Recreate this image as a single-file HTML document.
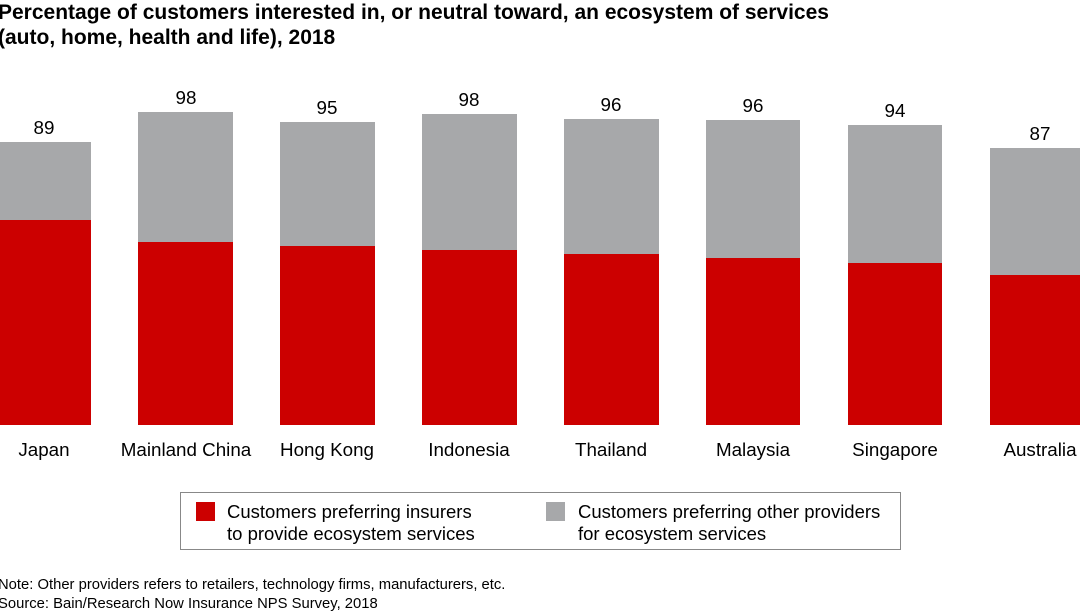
<!DOCTYPE html>
<html><head><meta charset="utf-8"><style>
html,body{margin:0;padding:0;background:#fff;width:1080px;height:612px;overflow:hidden;font-family:"Liberation Sans",Arial,sans-serif;}
</style></head><body>
<svg width="1080" height="612" xmlns="http://www.w3.org/2000/svg" font-family="Liberation Sans, Arial, sans-serif">
<text x="-2" y="19" font-size="21" font-weight="bold" fill="#000">Percentage of customers interested in, or neutral toward, an ecosystem of services</text>
<text x="-2" y="44" font-size="21" font-weight="bold" fill="#000">(auto, home, health and life), 2018</text>
<g>
<rect x="-3" y="142" width="94" height="78" fill="#a7a8aa"/><rect x="-3" y="220" width="94" height="205" fill="#cc0000"/>
<rect x="138" y="112" width="95" height="130" fill="#a7a8aa"/><rect x="138" y="242" width="95" height="183" fill="#cc0000"/>
<rect x="280" y="122" width="95" height="124" fill="#a7a8aa"/><rect x="280" y="246" width="95" height="179" fill="#cc0000"/>
<rect x="422" y="114" width="95" height="136" fill="#a7a8aa"/><rect x="422" y="250" width="95" height="175" fill="#cc0000"/>
<rect x="564" y="119" width="95" height="135" fill="#a7a8aa"/><rect x="564" y="254" width="95" height="171" fill="#cc0000"/>
<rect x="706" y="120" width="94" height="138" fill="#a7a8aa"/><rect x="706" y="258" width="94" height="167" fill="#cc0000"/>
<rect x="848" y="125" width="94" height="138" fill="#a7a8aa"/><rect x="848" y="263" width="94" height="162" fill="#cc0000"/>
<rect x="990" y="148" width="95" height="127" fill="#a7a8aa"/><rect x="990" y="275" width="95" height="150" fill="#cc0000"/>
</g>
<g font-size="18.8" fill="#000" text-anchor="middle">
<text x="44" y="134">89</text><text x="186" y="104">98</text><text x="327" y="114">95</text><text x="469" y="106">98</text>
<text x="611" y="111">96</text><text x="753" y="112">96</text><text x="895" y="117">94</text><text x="1040" y="140">87</text>
<text x="44" y="456">Japan</text><text x="186" y="456">Mainland China</text><text x="327" y="456">Hong Kong</text><text x="469" y="456">Indonesia</text>
<text x="611" y="456">Thailand</text><text x="753" y="456">Malaysia</text><text x="895" y="456">Singapore</text><text x="1040" y="456">Australia</text>
</g>
<rect x="180.5" y="492.5" width="720" height="57" fill="none" stroke="#888" stroke-width="1"/>
<rect x="196" y="502" width="19" height="19" fill="#cc0000"/>
<rect x="546" y="502" width="19" height="19" fill="#a7a8aa"/>
<g font-size="18.5" fill="#000">
<text x="227" y="518">Customers preferring insurers</text><text x="227" y="540">to provide ecosystem services</text>
<text x="578" y="518">Customers preferring other providers</text><text x="578" y="540">for ecosystem services</text>
</g>
<g font-size="14.8" fill="#000">
<text x="-2" y="589">Note: Other providers refers to retailers, technology firms, manufacturers, etc.</text>
<text x="-2" y="608">Source: Bain/Research Now Insurance NPS Survey, 2018</text>
</g>
</svg>
</body></html>
